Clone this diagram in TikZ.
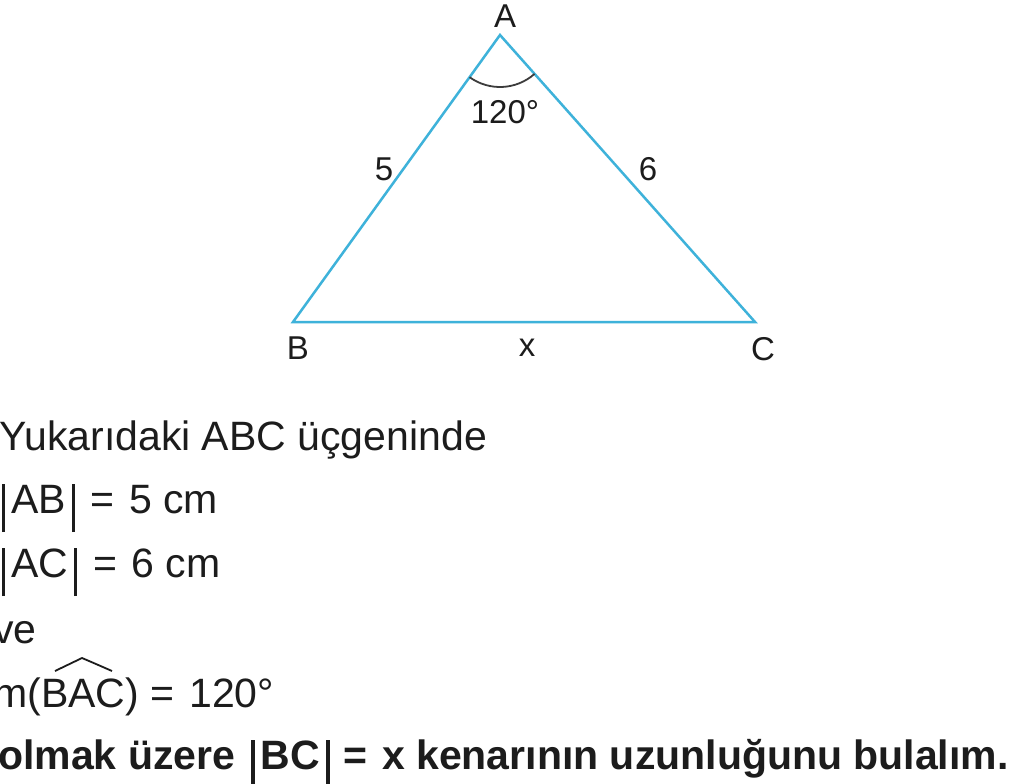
\documentclass[tikz,border=0pt]{standalone}
\usepackage{fontspec}
\setmainfont{Liberation Sans}
\usetikzlibrary{calc}
\definecolor{tricyan}{RGB}{62,178,218}
\definecolor{arcgray}{RGB}{60,60,60}
\definecolor{txt}{RGB}{28,28,28}
\newcommand{\vbar}[1]{\hspace{4pt}\rule[-19pt]{#1}{48pt}\hspace{6pt}}
\newcommand{\vbarr}[1]{\hspace{6pt}\rule[-19pt]{#1}{48pt}\hspace{4pt}}
\begin{document}
\begin{tikzpicture}[x=1pt,y=-1pt,
  lbl/.style={anchor=base,inner sep=0pt,text=txt,font=\fontsize{33}{38}\selectfont},
  body/.style={anchor=base west,inner sep=0pt,text=txt,font=\fontsize{41}{48}\selectfont},
  bodyb/.style={anchor=base west,inner sep=0pt,text=txt,font=\fontsize{41}{48}\selectfont\bfseries},
  side/.style={draw=tricyan,line width=2.5pt,line join=miter}]
\useasboundingbox[fill=white] (0,0) rectangle (1033,784);
% vertices
\coordinate (A) at (500,35);
\coordinate (B) at (293,322);
\coordinate (C) at (755,322);
\draw[side] (A) -- (B) -- (C) -- cycle;
% angle arc
\draw[arcgray,line width=1.8pt] ($(A)+(234.2:52pt)$) arc[start angle=234.2,end angle=311.6,radius=52pt];
% labels
\node[lbl] (la) at (505,28) {A};
\node[lbl] (lb) at (298,359) {B};
\node[lbl] (lc) at (763,360) {C};
\node[lbl] (lx) at (527,356) {x};
\node[lbl] (l5) at (384,180) {5};
\node[lbl] (l6) at (648,180) {6};
\node[lbl] (lang) at (505,123) {120°};
% text block
\node[body] (t1) at (-1,450) {Yukarıdaki ABC üçgeninde};
\node[body] (t2) at (-2,513) {\vbar{3pt}AB\vbarr{3pt}\hspace{12pt}=\hspace{3pt} 5 cm};
\node[body] (t3) at (-2,577) {\vbar{3pt}AC\vbarr{3pt}\hspace{12pt}=\hspace{3pt} 6 cm};
\node[body] (t4) at (-7,643) {ve};
\node[body] (t5) at (-7,707) {m(BAC)\hspace{12pt}=\hspace{3pt} 120°};
\draw[txt,line width=1.8pt] (55,671) .. controls (68,664) .. (82,658) .. controls (96,664) .. (112,671);
\node[bodyb] (t6) at (-2,769) {olmak üzere \vbar{4pt}BC\vbarr{4pt}\hspace{10pt}=\hspace{3pt} x kenarının uzunluğunu bulalım.};
\end{tikzpicture}
\end{document}
